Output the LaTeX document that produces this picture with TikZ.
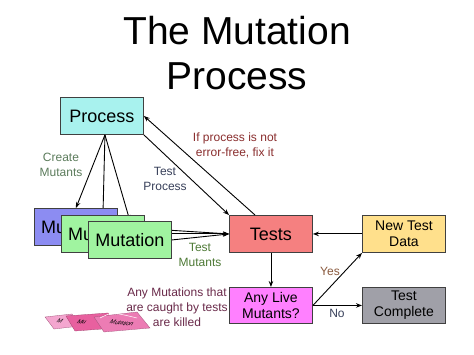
\documentclass[tikz,border=0pt]{standalone}
\usepackage{fontspec}
\setmainfont{Liberation Sans}
\usetikzlibrary{arrows.meta,calc}
\definecolor{cproc}{HTML}{A8F2EE}
\definecolor{cblue}{HTML}{8C8CF2}
\definecolor{cgreen}{HTML}{A0F4A0}
\definecolor{ctests}{HTML}{F58080}
\definecolor{cnew}{HTML}{FFE08C}
\definecolor{clive}{HTML}{FF80FF}
\definecolor{cdone}{HTML}{A0A0A8}
\definecolor{cedge}{HTML}{404040}
\definecolor{lgreen}{HTML}{5C7C5C}
\definecolor{lslate}{HTML}{38405A}
\definecolor{lred}{HTML}{8A2E2E}
\definecolor{ltm}{HTML}{4E7A36}
\definecolor{lyes}{HTML}{8A5A3E}
\definecolor{lpurple}{HTML}{6A2A4A}
\definecolor{pinkA}{HTML}{F4A6CF}
\definecolor{pinkB}{HTML}{E8609F}
\definecolor{pinkC}{HTML}{EC7CB4}
\tikzset{
  box/.style={draw=cedge, line width=0.9pt, inner sep=0pt, minimum width=83pt, anchor=north west},
  bigbox/.style={box, minimum height=37pt, font=\fontsize{18}{21}\selectfont},
  smallbox/.style={box, minimum height=37pt, align=center, font=\fontsize{14}{16}\selectfont},
  conn/.style={draw=black, line width=0.9pt, -{Stealth[length=6pt,width=4.5pt]}},
  lbl/.style={align=center, font=\fontsize{12}{15}\selectfont, inner sep=0pt},
  bigtxt/.style={font=\fontsize{18}{21}\selectfont, inner sep=0pt, anchor=west},
  titletxt/.style={font=\fontsize{39}{45}\selectfont, anchor=base, inner sep=0pt}
}
\begin{document}
\begin{tikzpicture}[x=1pt,y=-1pt]
\useasboundingbox (0,0) rectangle (474,355);
\fill[white] (0,0) rectangle (474,355);
% title
\node[titletxt] (title1) at (237,45) {The Mutation};
\node[titletxt] (title2) at (237,90) {Process};
% boxes
\node[bigbox, fill=cproc] (proc) at (60,97) {Process};
\coordinate (m1a) at (34,208);
\coordinate (m2a) at (61,215);
\coordinate (m3a) at (88,221);
\node[bigbox, fill=ctests] (tests) at (229,215) {Tests};
\node[smallbox, fill=cnew] (new) at (362,215) {New Test\\Data};
\node[smallbox, fill=clive, minimum height=36pt] (live) at (229,287) {Any Live\\Mutants?};
\node[smallbox, fill=cdone, minimum height=36pt] (done) at (362,287) {Test\\Complete};
% placeholders for mutation boxes so connectors can be drawn behind them
\node[bigbox, draw=none] (m1) at (m1a) {};
\node[bigbox, draw=none] (m2) at (m2a) {};
\node[bigbox, draw=none] (m3) at (m3a) {};
% connectors behind mutation boxes
\draw[conn] (m1.east) -- (tests.west);
\draw[conn] (m2.east) -- (tests.west);
\draw[conn] (m3.east) -- (tests.west);
\draw[conn] ([xshift=3pt]proc.south) -- (m1.north);
\draw[conn] ([xshift=3pt]proc.south) -- (m2.north);
\draw[conn] ([xshift=3pt]proc.south) -- (m3.north);
% mutation boxes (stacked; only the front one shows its full word)
\node[bigbox, fill=cblue] (mb1) at (m1a) {};
\node[bigtxt] (mt1) at ([xshift=7pt]mb1.west) {Mu};
\node[bigbox, fill=cgreen] (mb2) at (m2a) {};
\node[bigtxt] (mt2) at ([xshift=7pt]mb2.west) {Mu};
\node[bigbox, fill=cgreen] (mb3) at (m3a) {Mutation};
% other connectors
\draw[conn] ([xshift=26pt]tests.north west) -- (proc.east);
\draw[conn] (proc.south east) -- (tests.north west);
\draw[conn] (tests.south) -- (live.north);
\draw[conn] (live.east) -- (new.south west);
\draw[conn] (new.west) -- (tests.east);
\draw[conn] (live.east) -- (done.west);
% labels
\node[lbl, text=lgreen] (lcreate) at (61,165) {Create\\Mutants};
\node[lbl, text=lslate] (ltp) at (165,179) {Test\\Process};
\node[lbl, text=lred] (lfix) at (235,145) {If process is not\\error-free, fix it};
\node[lbl, text=ltm] (ltmut) at (200,255) {Test\\Mutants};
\node[lbl, text=lyes] (lyesn) at (330,271) {Yes};
\node[lbl, text=lslate] (lno) at (337,313) {No};
\node[lbl, text=lpurple] (lkill) at (177,307) {Any Mutations that\\are caught by tests\\are killed};
% squashed pink mutation boxes
\filldraw[fill=pinkA, draw=pinkC!70!black, line width=0.3pt] (45,317) -- (72,314) -- (80,326) -- (54,329) -- cycle;
\node[font=\fontsize{6}{6}\selectfont, rotate=-8, xslant=0.6, inner sep=0pt] (pa) at (60,321) {M};
\filldraw[fill=pinkB, draw=pinkB!70!black, line width=0.3pt] (66,316) -- (108,313) -- (116,328) -- (75,331) -- cycle;
\node[font=\fontsize{6}{6}\selectfont, rotate=-8, xslant=0.6, inner sep=0pt] (pb) at (82,322) {Mu};
\filldraw[fill=pinkC, draw=pinkC!70!black, line width=0.3pt] (94,317) -- (137,312) -- (150,328) -- (104,332) -- cycle;
\draw[white, line width=0.5pt] (100,318) .. controls (112,312) .. (137,318);
\node[font=\fontsize{6}{6}\selectfont, rotate=-6, xslant=0.6, inner sep=0pt] (pc) at (122,323) {Mutation};
\end{tikzpicture}
\end{document}
